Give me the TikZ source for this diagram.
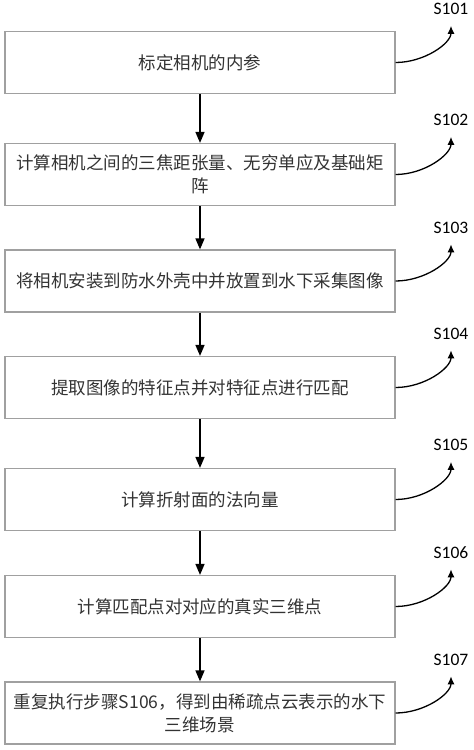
\documentclass[tikz,border=0pt]{standalone}
\usepackage{fontspec}
\setmainfont{Carlito}
\newfontfamily\cjk{Noto Sans CJK SC}
\usetikzlibrary{arrows.meta}
\definecolor{boxgray}{HTML}{A0A0A0}
\definecolor{textgray}{HTML}{333333}

\begin{document}
\begin{tikzpicture}[x=1pt, y=-1pt,
        stepbox/.style={draw=boxgray, line width=1.2pt, minimum width=390pt, minimum height=62pt, inner sep=2pt, align=center, text=textgray, font=\cjk\fontsize{17.5}{23}\selectfont},
        steplabel/.style={inner sep=0pt, anchor=base, font=\fontsize{17.5}{20}\selectfont},
        flowarrow/.style={line width=1.5pt, -{Triangle[length=11pt, width=9pt]}},
        callout/.style={line width=1.3pt, -{Latex[length=8pt, width=7pt]}, shorten >=11pt}
    ]
      \useasboundingbox (0,0) rectangle (474,750);
      % steps
      \node[stepbox] (s101) at (200,62.5) {标定相机的内参};
      \node[stepbox] (s102) at (200,174.5) {计算相机之间的三焦距张量、无穷单应及基础矩\\阵};
      \node[stepbox] (s103) at (200,281) {将相机安装到防水外壳中并放置到水下采集图像};
      \node[stepbox] (s104) at (200,387.5) {提取图像的特征点并对特征点进行匹配};
      \node[stepbox] (s105) at (200,499.5) {计算折射面的法向量};
      \node[stepbox] (s106) at (200,606.5) {计算匹配点对对应的真实三维点};
      \node[stepbox] (s107) at (200,713) {重复执行步骤S106，得到由稀疏点云表示的水下\\三维场景};
      % step numbers
      \node[steplabel] (l101) at (451,14.5) {S101};
      \node[steplabel] (l102) at (451,125.5) {S102};
      \node[steplabel] (l103) at (451,233) {S103};
      \node[steplabel] (l104) at (451,339) {S104};
      \node[steplabel] (l105) at (451,450.5) {S105};
      \node[steplabel] (l106) at (451,558) {S106};
      \node[steplabel] (l107) at (451,665) {S107};
      % flow
      \draw[flowarrow] (s101) -- (s102);
      \draw[flowarrow] (s102) -- (s103);
      \draw[flowarrow] (s103) -- (s104);
      \draw[flowarrow] (s104) -- (s105);
      \draw[flowarrow] (s105) -- (s106);
      \draw[flowarrow] (s106) -- (s107);
      % callouts
      \draw[callout] (s101.east) to[out=0, in=-90] (l101.south);
      \draw[callout] (s102.east) to[out=0, in=-90] (l102.south);
      \draw[callout] (s103.east) to[out=0, in=-90] (l103.south);
      \draw[callout] (s104.east) to[out=0, in=-90] (l104.south);
      \draw[callout] (s105.east) to[out=0, in=-90] (l105.south);
      \draw[callout] (s106.east) to[out=0, in=-90] (l106.south);
      \draw[callout] (s107.east) to[out=0, in=-90] (l107.south);
\end{tikzpicture}
\end{document}
